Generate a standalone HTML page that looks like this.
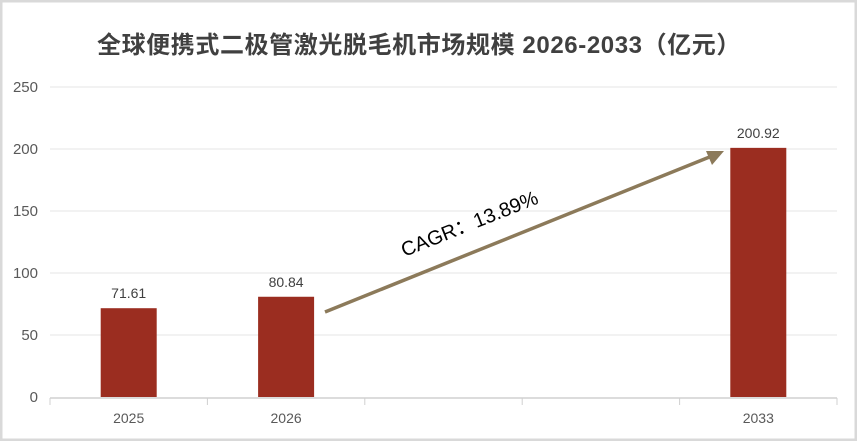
<!DOCTYPE html>
<html><head><meta charset="utf-8"><style>
body{margin:0;background:#fff}
svg{display:block}
</style></head><body>
<svg id="c" width="857" height="441" xmlns="http://www.w3.org/2000/svg">
<rect x="1" y="1" width="855" height="439" fill="#fff" stroke="#d9d9d9" stroke-width="3"/>
<text x="419" y="53" text-anchor="middle" font-family="'Liberation Sans','Noto Sans CJK SC',sans-serif" font-size="24" letter-spacing="0.6" font-weight="bold" fill="#404040">全球便携式二极管激光脱毛机市场规模 2026-2033（亿元）</text>
<g id="grid"></g><g id="bars"></g><g id="axis"></g>
<line x1="325" y1="312" x2="712" y2="156" stroke="#8c7a5a" stroke-width="3.5"/>
<polygon points="724,151 706,151 712,165" fill="#8c7a5a"/>
<text x="0" y="0" transform="translate(472,230) rotate(-21.8)" text-anchor="middle" font-family="'Liberation Sans','Noto Sans CJK SC',sans-serif" font-size="20" fill="#000">CAGR：13.89%</text>
</svg>
<script>
const categories=["2025","2026","","","2033"];
const values=[71.61,80.84,null,null,200.92];
const labels=["71.61","80.84","","","200.92"];
const yTicks=[0,50,100,150,200,250];
const NS="http://www.w3.org/2000/svg";
const x0=50,x1=837,y0=397,yTop=87,yMax=250;
const slot=(x1-x0)/categories.length;
const y=v=>y0-(v/yMax)*(y0-yTop);
const xc=i=>x0+slot*(i+0.5);
function mk(t,a,p){const e=document.createElementNS(NS,t);for(const k in a)e.setAttribute(k,a[k]);p.appendChild(e);return e;}
const g=document.getElementById('grid'),b=document.getElementById('bars'),ax=document.getElementById('axis');
yTicks.forEach(v=>{
 if(v>0){const l=mk('line',{x1:x0,x2:x1,y1:y(v),y2:y(v),stroke:'#e6e6e6','stroke-width':1},g);
 
 }
 const t=mk('text',{x:38,y:y(v)+5,'text-anchor':'end','font-family':'Liberation Sans,sans-serif','font-size':15,fill:'#595959'},g);
 t.textContent=v;
 
 
});
const base=mk('line',{x1:x0,x2:x1,y1:y0+1,y2:y0+1,stroke:'#d0d0d0','stroke-width':1.5},ax);


for(let i=0;i<=categories.length;i++){const tk=mk('line',{x1:x0+slot*i,x2:x0+slot*i,y1:y0+1,y2:y0+8,stroke:'#d0d0d0','stroke-width':1},ax);
 
 }
categories.forEach((c,i)=>{
 if(values[i]!=null){
  const r=mk('rect',{x:xc(i)-28,y:y(values[i]),width:56,height:y0-y(values[i]),fill:'#9b2d20'},b);
  
  
  const t=mk('text',{x:xc(i),y:y(values[i])-10,'text-anchor':'middle','font-family':'Liberation Sans,sans-serif','font-size':14,fill:'#404040'},b);
  t.textContent=labels[i];
  
  
 }
 if(c){const t=mk('text',{x:xc(i),y:423,'text-anchor':'middle','font-family':'Liberation Sans,sans-serif','font-size':14,fill:'#595959'},ax);
  t.textContent=c;
  
  }
});
</script>
</body></html>
